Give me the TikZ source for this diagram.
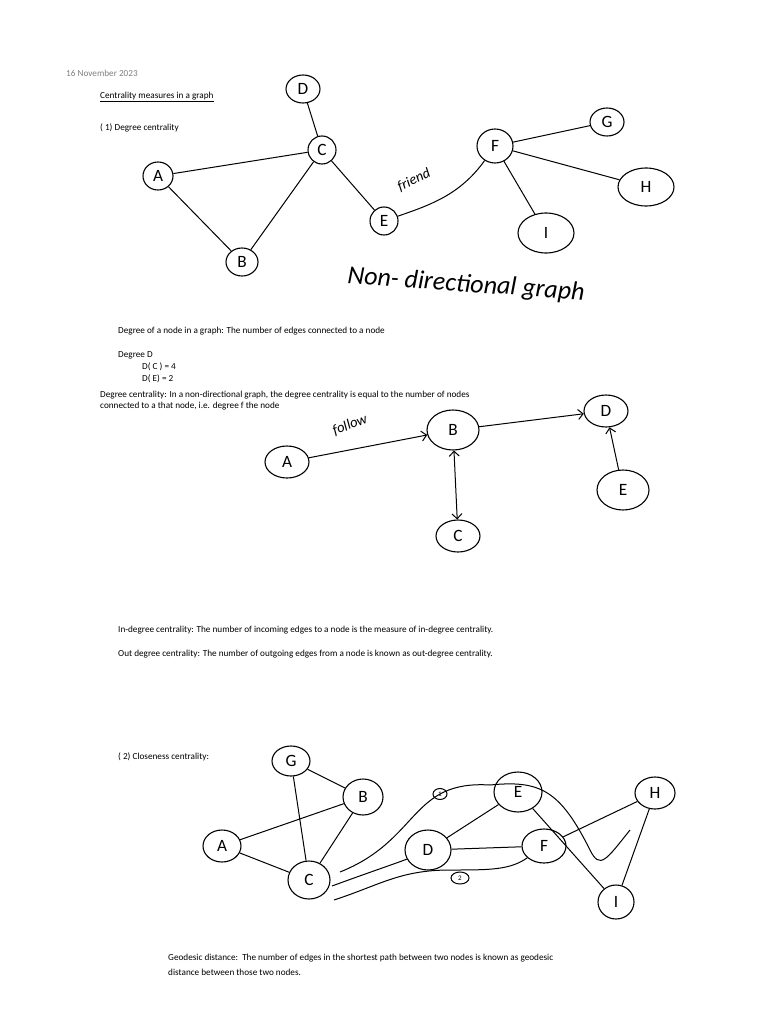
\documentclass[tikz,border=0pt]{standalone}
\usepackage{fontspec}
\setmainfont{Carlito}
\usetikzlibrary{arrows.meta,shapes.geometric}
\begin{document}
\begin{tikzpicture}[x=1pt,y=-1pt,
  hn/.style={draw,ellipse,line width=1.1pt,inner sep=0pt,minimum width=34pt,minimum height=28pt,font=\LARGE},
  hl/.style={line width=1pt},
  tx/.style={anchor=west,font=\fontsize{9.2}{11}\selectfont,inner sep=0pt},
  ar/.style={hl,-{Straight Barb[length=5pt]}}]
\fill[white] (0,0) rectangle (768,1024);
\node[tx,text=gray] (date) at (66,73) {16 November 2023};
\node[tx] (t1) at (100,97) {\underline{Centrality measures in a graph}};
\node[tx] (t2) at (100,128) {( 1) Degree centrality};
% top graph
\node[hn] (D) at (303,89) {D};
\node[hn,minimum width=28pt] (C) at (322,150) {C};
\node[hn,minimum width=30pt] (A) at (158,176) {A};
\node[hn,minimum width=32pt] (B) at (242,262) {B};
\node[hn,minimum width=28pt] (E) at (384,221) {E};
\node[hn,minimum width=36pt,minimum height=34pt] (F) at (495,146) {F};
\node[hn] (G) at (607,122) {G};
\node[hn,minimum width=56pt,minimum height=38pt] (H) at (646,187) {H};
\node[hn,minimum width=56pt,minimum height=40pt] (I) at (546,233) {I};
\draw[hl] (D)--(C); \draw[hl] (A)--(C); \draw[hl] (A)--(B);
\draw[hl] (B)--(C); \draw[hl] (C)--(E);
\draw[hl] (E) .. controls (430,205) and (460,195) .. (F);
\draw[hl] (F)--(G); \draw[hl] (F)--(H); \draw[hl] (F)--(I);
\node[rotate=25,font=\Large\itshape] (fr) at (414,180) {friend};
\node[rotate=-4,font=\fontsize{26}{28}\selectfont\itshape] (nd) at (466,285) {Non- directional graph};
\node[tx] (t3) at (118,331) {Degree of a node in a graph: The number of edges connected to a node};
\node[tx] (t4) at (118,355) {Degree D};
\node[tx] (t5) at (142,367) {D( C ) = 4};
\node[tx] (t6) at (142,379) {D( E) = 2};
\node[tx] (t7) at (100,395) {Degree centrality: In a non-directional graph, the degree centrality is equal to the number of nodes};
\node[tx] (t8) at (100,406) {connected to a that node, i.e. degree f the node};
% middle graph
\node[hn,minimum width=44pt,minimum height=32pt] (mA) at (287,462) {A};
\node[hn,minimum width=52pt,minimum height=40pt] (mB) at (453,430) {B};
\node[hn,minimum width=44pt,minimum height=32pt] (mD) at (606,411) {D};
\node[hn,minimum width=52pt,minimum height=40pt] (mE) at (623,490) {E};
\node[hn,minimum width=44pt,minimum height=32pt] (mC) at (458,536) {C};
\draw[ar] (mA)--(mB);
\draw[ar] (mB)--(mD);
\draw[ar] (mE)--(mD);
\draw[hl,{Straight Barb[length=5pt]}-{Straight Barb[length=5pt]}] (mB)--(mC);
\node[rotate=22,font=\Large\itshape] (fo) at (350,425) {follow};
\node[tx] (t9) at (118,630) {In-degree centrality: The number of incoming edges to a node is the measure of in-degree centrality.};
\node[tx] (t10) at (118,654) {Out degree centrality: The number of outgoing edges from a node is known as out-degree centrality.};
\node[tx] (t11) at (118,757) {( 2) Closeness centrality:};
% bottom graph
\node[hn,minimum width=38pt,minimum height=30pt] (bG) at (291,761) {G};
\node[hn,minimum width=40pt,minimum height=36pt] (bB) at (363,797) {B};
\node[hn,minimum width=38pt,minimum height=32pt] (bA) at (222,846) {A};
\node[hn,minimum width=42pt,minimum height=38pt] (bC) at (309,880) {C};
\node[hn,minimum width=46pt,minimum height=40pt] (bD) at (428,850) {D};
\node[hn,minimum width=48pt,minimum height=40pt] (bE) at (518,792) {E};
\node[hn,minimum width=44pt,minimum height=34pt] (bF) at (544,846) {F};
\node[hn,minimum width=40pt,minimum height=32pt] (bH) at (655,793) {H};
\node[hn,minimum width=36pt,minimum height=34pt] (bI) at (616,902) {I};
\draw[hl] (bG)--(bB); \draw[hl] (bG)--(bC); \draw[hl] (bA)--(bB);
\draw[hl] (bA)--(bC); \draw[hl] (bB)--(bC);
\draw[hl] (bD)--(bE); \draw[hl] (bD)--(bF);
\draw[hl] (bF)--(bH); \draw[hl] (bH)--(bI);
\draw[hl] (bE)--(bI);
\coordinate (p1) at (340,872);
\coordinate (p2) at (332,886);
\coordinate (p3) at (334,900);
\draw[hl] (p1) .. controls (420,840) and (410,780) .. (490,785) .. controls (540,780) and (560,790) .. (590,850) .. controls (600,870) and (606,860) .. (630,830);
\draw[hl] (p2) .. controls (370,872) and (400,862) .. (bD);
\draw[hl] (p3) .. controls (380,885) and (400,870) .. (450,870) .. controls (490,870) and (510,870) .. (bF);
\node[draw,ellipse,hl,minimum width=14pt,minimum height=11pt,inner sep=0pt,font=\scriptsize] (n1) at (440,794) {1};
\node[draw,ellipse,hl,minimum width=18pt,minimum height=12pt,inner sep=0pt,font=\scriptsize] (n2) at (460,878) {2};
\node[tx] (t12) at (168,958) {Geodesic distance:\ \ The number of edges in the shortest path between two nodes is known as geodesic};
\node[tx] (t13) at (168,972) {distance between those two nodes.};
\end{tikzpicture}
\end{document}
